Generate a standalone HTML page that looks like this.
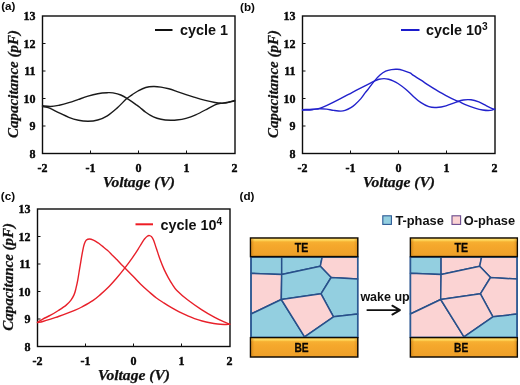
<!DOCTYPE html>
<html><head><meta charset="utf-8"><title>figure</title>
<style>
html,body{margin:0;padding:0;background:#fff;}
svg{display:block;}
.tk{font-family:"Liberation Serif",serif;font-weight:bold;font-size:12px;fill:#080808;stroke:#080808;stroke-width:0.4px;}
.al{font-family:"Liberation Serif",serif;font-weight:bold;font-style:italic;font-size:15px;fill:#111;stroke:#111;stroke-width:0.25px;}
.xl{font-size:15.6px;}
.lg{font-family:"Liberation Sans",sans-serif;font-weight:bold;font-size:14.4px;fill:#111;}
.pl{font-family:"Liberation Sans",sans-serif;font-weight:bold;font-size:11.7px;fill:#0a0a0a;}
.ph{font-family:"Liberation Sans",sans-serif;font-weight:bold;font-size:12.8px;fill:#111;}
.wk{font-family:"Liberation Sans",sans-serif;font-weight:bold;font-size:12.5px;fill:#111;}
.el{font-family:"Liberation Sans",sans-serif;font-weight:bold;font-size:12.2px;fill:#0a0602;stroke:#0a0602;stroke-width:0.3px;}
.cv{fill:none;stroke-width:1.4;stroke-linejoin:round;stroke-linecap:round;}
</style></head><body>
<svg width="520" height="385" viewBox="0 0 520 385">
<defs>
<linearGradient id="gold" x1="0" y1="0" x2="0" y2="1">
<stop offset="0" stop-color="#f9b738"/><stop offset="0.4" stop-color="#f5a82c"/><stop offset="1" stop-color="#ee9f28"/>
</linearGradient>
<linearGradient id="hl" x1="0" y1="0" x2="0" y2="1"><stop offset="0" stop-color="#ffe474"/><stop offset="1" stop-color="#fdca48" stop-opacity="0.75"/></linearGradient>
<linearGradient id="sl" x1="0" y1="0" x2="1" y2="0"><stop offset="0" stop-color="#c97f18" stop-opacity="0.7"/><stop offset="1" stop-color="#e8981f" stop-opacity="0"/></linearGradient>
<linearGradient id="sr" x1="1" y1="0" x2="0" y2="0"><stop offset="0" stop-color="#c97f18" stop-opacity="0.5"/><stop offset="1" stop-color="#e8981f" stop-opacity="0"/></linearGradient>
</defs>
<rect width="520" height="385" fill="#fff"/>
<rect x="42.5" y="16" width="192.5" height="137.5" fill="none" stroke="#0c0c0c" stroke-width="1.4"/>
<path d="M90.5,153.5v-3M138.5,153.5v-3M186.5,153.5v-3M42.5,43.5h3M42.5,71.0h3M42.5,98.5h3M42.5,126.0h3" stroke="#111" stroke-width="1" fill="none"/>
<text class="tk" x="35.5" y="20.0" text-anchor="end">13</text>
<text class="tk" x="35.5" y="47.5" text-anchor="end">12</text>
<text class="tk" x="35.5" y="75.0" text-anchor="end">11</text>
<text class="tk" x="35.5" y="102.5" text-anchor="end">10</text>
<text class="tk" x="35.5" y="130.0" text-anchor="end">9</text>
<text class="tk" x="35.5" y="157.5" text-anchor="end">8</text>
<text class="tk" x="42.5" y="172.0" text-anchor="middle">-2</text>
<text class="tk" x="90.5" y="172.0" text-anchor="middle">-1</text>
<text class="tk" x="138.5" y="172.0" text-anchor="middle">0</text>
<text class="tk" x="186.5" y="172.0" text-anchor="middle">1</text>
<text class="tk" x="234.5" y="172.0" text-anchor="middle">2</text>
<text class="al xl" x="138.9" y="187.3" text-anchor="middle">Voltage (V)</text>
<text class="al yl" transform="translate(17.5,84.0) rotate(-90)" text-anchor="middle">Capacitance (pF)</text>

<path d="M42.5,105.8C43.9,105.9 47.8,106.6 50.6,106.5C53.4,106.4 56.2,105.8 59.2,105.2C62.2,104.6 65.6,103.7 68.8,102.7C72.0,101.7 75.3,100.5 78.5,99.4C81.7,98.3 84.8,97.2 88.0,96.2C91.2,95.2 94.5,94.3 97.7,93.7C100.9,93.1 104.8,92.8 107.3,92.7C109.8,92.6 110.8,92.5 113.0,92.9C115.2,93.3 118.2,93.9 120.8,95.0C123.4,96.1 126.0,97.8 128.5,99.4C131.0,101.0 134.1,103.2 136.0,104.6C137.9,105.9 138.4,106.2 140.0,107.5C141.6,108.8 143.5,110.7 145.7,112.3C147.9,113.9 150.8,115.8 153.4,116.9C156.0,118.1 158.1,118.7 161.0,119.2C163.9,119.8 168.1,120.1 170.7,120.2C173.3,120.3 173.9,120.3 176.5,120.0C179.1,119.7 182.8,119.2 186.0,118.3C189.2,117.4 192.5,116.2 195.7,114.8C198.9,113.4 202.1,111.7 205.3,110.0C208.5,108.3 212.4,105.9 215.0,104.8C217.6,103.7 218.8,103.7 220.7,103.3C222.6,102.9 224.2,102.9 226.5,102.5C228.8,102.1 233.3,101.2 234.7,101.0" class="cv" stroke="#1a1a1a"/>
<path d="M42.5,106.5C43.7,106.8 46.8,107.0 49.6,108.1C52.4,109.2 56.0,111.4 59.2,112.9C62.4,114.4 65.6,116.1 68.8,117.3C72.0,118.5 75.3,119.5 78.5,120.2C81.7,120.9 84.8,121.2 88.0,121.2C91.2,121.2 94.5,120.9 97.7,120.0C100.9,119.1 104.1,117.8 107.3,115.8C110.5,113.8 113.8,110.9 117.0,108.1C120.2,105.3 124.0,101.0 126.5,98.8C129.1,96.5 130.4,95.9 132.3,94.6C134.2,93.3 135.8,92.2 138.0,91.0C140.2,89.8 143.1,88.2 145.7,87.5C148.3,86.8 150.8,86.6 153.4,86.5C156.0,86.4 158.4,86.7 161.0,87.1C163.6,87.5 166.2,88.1 168.8,88.8C171.4,89.5 173.6,90.3 176.5,91.3C179.4,92.3 182.8,93.5 186.0,94.6C189.2,95.7 192.5,96.7 195.7,97.7C198.9,98.7 202.1,99.6 205.3,100.4C208.5,101.2 212.4,102.0 215.0,102.5C217.6,103.0 218.8,103.2 220.7,103.3C222.6,103.4 224.2,103.4 226.5,102.9C228.8,102.4 233.3,100.8 234.7,100.4" class="cv" stroke="#1a1a1a"/>
<path d="M155,30H172.5" stroke="#111" stroke-width="2"/>
<text class="lg" x="180" y="35">cycle 1</text>
<rect x="302.5" y="16" width="192.5" height="137.5" fill="none" stroke="#0c0c0c" stroke-width="1.4"/>
<path d="M350.5,153.5v-3M398.5,153.5v-3M446.5,153.5v-3M302.5,43.5h3M302.5,71.0h3M302.5,98.5h3M302.5,126.0h3" stroke="#111" stroke-width="1" fill="none"/>
<text class="tk" x="295.5" y="20.0" text-anchor="end">13</text>
<text class="tk" x="295.5" y="47.5" text-anchor="end">12</text>
<text class="tk" x="295.5" y="75.0" text-anchor="end">11</text>
<text class="tk" x="295.5" y="102.5" text-anchor="end">10</text>
<text class="tk" x="295.5" y="130.0" text-anchor="end">9</text>
<text class="tk" x="295.5" y="157.5" text-anchor="end">8</text>
<text class="tk" x="302.5" y="172.0" text-anchor="middle">-2</text>
<text class="tk" x="350.5" y="172.0" text-anchor="middle">-1</text>
<text class="tk" x="398.5" y="172.0" text-anchor="middle">0</text>
<text class="tk" x="446.5" y="172.0" text-anchor="middle">1</text>
<text class="tk" x="494.5" y="172.0" text-anchor="middle">2</text>
<text class="al xl" x="398.9" y="187.3" text-anchor="middle">Voltage (V)</text>
<text class="al yl" transform="translate(277.5,84.0) rotate(-90)" text-anchor="middle">Capacitance (pF)</text>

<path d="M302.5,109.7C304.1,109.6 309.5,109.4 312.3,109.2C315.1,109.0 316.8,109.1 319.4,108.4C322.0,107.7 324.6,106.5 328.0,104.9C331.4,103.3 336.0,101.0 340.0,98.9C344.0,96.9 348.0,94.7 352.0,92.6C356.0,90.5 360.3,88.2 364.0,86.3C367.7,84.4 371.8,82.3 374.3,81.1C376.8,79.9 377.4,79.7 379.0,79.3C380.6,78.9 382.4,78.6 384.0,78.6C385.6,78.6 387.1,78.9 388.6,79.3C390.1,79.7 391.4,80.1 393.0,80.8C394.6,81.5 395.9,82.1 398.0,83.5C400.1,84.9 403.1,87.0 405.7,89.2C408.3,91.4 410.8,94.2 413.4,96.5C415.9,98.8 418.4,101.0 421.0,102.7C423.6,104.4 426.2,105.9 428.8,106.7C431.4,107.5 433.6,107.7 436.5,107.5C439.4,107.3 442.8,106.7 446.0,105.8C449.2,104.9 452.8,103.3 455.7,102.3C458.6,101.3 460.8,100.4 463.4,100.0C465.9,99.6 468.4,99.5 471.0,99.8C473.6,100.1 476.2,100.9 478.8,101.9C481.4,102.9 483.9,104.5 486.5,105.8C489.1,107.1 493.3,109.0 494.7,109.6" class="cv" stroke="#2222cc"/>
<path d="M302.5,110.1C304.1,110.0 309.5,109.9 312.3,109.7C315.1,109.5 317.0,108.8 319.4,108.7C321.8,108.6 324.2,108.8 326.6,109.1C329.0,109.4 331.3,110.1 333.7,110.4C336.1,110.7 339.0,111.1 340.9,111.1C342.8,111.1 343.4,111.0 345.1,110.4C346.8,109.8 349.2,108.6 350.9,107.6C352.6,106.6 353.4,105.9 355.1,104.4C356.8,102.9 359.2,100.5 360.9,98.6C362.6,96.7 363.8,94.6 365.1,92.9C366.4,91.2 367.1,90.6 368.6,88.6C370.1,86.6 372.4,83.4 374.3,81.1C376.2,78.8 378.1,76.7 380.0,75.0C381.9,73.3 383.8,72.0 385.7,71.1C387.6,70.2 389.5,69.9 391.4,69.6C393.3,69.3 395.2,69.2 397.1,69.3C399.0,69.4 400.8,69.7 402.9,70.3C405.0,70.9 408.2,72.1 410.0,72.9C411.8,73.8 411.6,74.2 413.4,75.4C415.2,76.6 418.4,78.5 421.0,80.2C423.6,81.9 426.2,83.7 428.8,85.4C431.4,87.1 433.6,88.5 436.5,90.2C439.4,91.9 442.8,93.9 446.0,95.6C449.2,97.3 453.4,99.4 455.7,100.4C457.9,101.4 457.9,101.0 459.5,101.7C461.1,102.4 462.7,103.5 465.3,104.6C467.9,105.7 472.1,107.2 475.0,108.1C477.9,109.0 480.1,109.6 482.6,110.0C485.2,110.4 488.3,110.6 490.3,110.4C492.3,110.2 494.0,109.2 494.7,109.0" class="cv" stroke="#2222cc"/>
<path d="M401,30H419.5" stroke="#1c1ccc" stroke-width="2"/>
<text class="lg" x="426" y="35">cycle 10<tspan dy="-4.6" font-size="10.2">3</tspan></text>
<rect x="37.5" y="209" width="192.5" height="137.5" fill="none" stroke="#0c0c0c" stroke-width="1.4"/>
<path d="M85.5,346.5v-3M133.5,346.5v-3M181.5,346.5v-3M37.5,236.5h3M37.5,264.0h3M37.5,291.5h3M37.5,319.0h3" stroke="#111" stroke-width="1" fill="none"/>
<text class="tk" x="30.5" y="213.0" text-anchor="end">13</text>
<text class="tk" x="30.5" y="240.5" text-anchor="end">12</text>
<text class="tk" x="30.5" y="268.0" text-anchor="end">11</text>
<text class="tk" x="30.5" y="295.5" text-anchor="end">10</text>
<text class="tk" x="30.5" y="323.0" text-anchor="end">9</text>
<text class="tk" x="30.5" y="350.5" text-anchor="end">8</text>
<text class="tk" x="37.5" y="365.0" text-anchor="middle">-2</text>
<text class="tk" x="85.5" y="365.0" text-anchor="middle">-1</text>
<text class="tk" x="133.5" y="365.0" text-anchor="middle">0</text>
<text class="tk" x="181.5" y="365.0" text-anchor="middle">1</text>
<text class="tk" x="229.5" y="365.0" text-anchor="middle">2</text>
<text class="al xl" x="133.9" y="380.3" text-anchor="middle">Voltage (V)</text>
<text class="al yl" transform="translate(12.5,276.9) rotate(-90)" text-anchor="middle">Capacitance (pF)</text>

<path d="M37.5,322.3C38.4,321.8 40.6,320.3 42.8,319.1C45.0,317.9 48.0,316.6 50.6,315.2C53.2,313.8 55.8,312.2 58.4,310.5C61.0,308.8 64.1,306.8 66.2,305.1C68.3,303.4 69.5,302.1 70.8,300.4C72.1,298.7 73.2,296.7 74.0,294.9C74.8,293.1 75.1,292.0 75.7,289.5C76.3,287.0 77.1,283.8 77.8,279.9C78.5,275.9 79.3,270.5 80.1,265.8C80.9,261.1 81.8,255.4 82.5,251.8C83.2,248.2 83.6,245.9 84.3,244.0C85.0,242.1 85.5,240.9 86.4,240.1C87.3,239.3 88.3,239.0 89.5,239.0C90.7,239.0 92.0,239.5 93.4,240.1C94.8,240.7 96.5,241.8 98.0,242.8C99.5,243.9 101.1,245.2 102.7,246.4C104.3,247.7 105.8,248.9 107.4,250.3C109.0,251.7 110.5,253.3 112.1,254.9C113.7,256.4 115.2,258.0 116.8,259.6C118.3,261.2 120.1,263.2 121.4,264.6C122.8,266.0 123.2,266.2 124.9,267.9C126.6,269.6 129.2,272.2 131.8,274.9C134.4,277.6 137.9,281.6 140.7,284.3C143.5,287.0 145.8,289.1 148.4,291.3C151.0,293.5 153.5,295.8 156.1,297.7C158.7,299.6 161.2,301.2 163.8,302.9C166.4,304.6 168.9,306.2 171.5,307.7C174.1,309.2 176.6,310.6 179.2,311.9C181.8,313.2 184.2,314.3 186.8,315.4C189.4,316.5 191.9,317.7 194.5,318.6C197.1,319.5 199.6,320.3 202.2,321.0C204.8,321.7 207.3,322.3 209.9,322.8C212.5,323.3 215.0,323.7 217.6,324.0C220.2,324.3 223.3,324.4 225.3,324.5C227.3,324.6 229.0,324.3 229.7,324.3" class="cv" stroke="#e8202a"/>
<path d="M37.5,322.6C38.4,322.4 40.6,322.1 42.8,321.5C45.0,320.9 48.0,320.0 50.6,319.2C53.2,318.4 55.8,317.4 58.4,316.5C61.0,315.6 63.6,314.7 66.2,313.7C68.8,312.7 71.4,311.7 74.0,310.6C76.6,309.5 78.7,308.7 81.8,307.0C84.9,305.3 89.7,302.7 92.8,300.6C95.9,298.5 98.0,296.6 100.6,294.4C103.2,292.2 105.6,290.0 108.3,287.3C111.0,284.6 113.7,281.4 116.5,278.2C119.3,275.0 122.4,271.2 124.9,267.9C127.5,264.6 129.6,261.7 131.8,258.6C134.0,255.5 136.4,251.8 138.0,249.3C139.6,246.8 140.4,245.3 141.5,243.6C142.6,241.9 143.5,240.2 144.5,239.0C145.5,237.8 146.5,236.8 147.3,236.2C148.1,235.6 148.8,235.5 149.5,235.6C150.2,235.7 150.8,235.8 151.5,236.6C152.2,237.4 152.8,238.4 153.6,240.3C154.4,242.2 155.2,245.0 156.3,248.2C157.4,251.4 158.8,256.0 160.1,259.6C161.4,263.2 162.8,266.6 164.2,269.6C165.6,272.6 167.0,275.3 168.4,277.8C169.8,280.3 171.1,282.5 172.5,284.6C173.9,286.7 174.1,287.7 176.6,290.2C179.1,292.7 183.4,296.6 187.5,299.8C191.6,303.0 196.6,306.4 201.1,309.3C205.6,312.2 210.7,315.2 214.7,317.4C218.7,319.6 222.8,321.3 225.3,322.4C227.8,323.5 229.0,323.9 229.7,324.2" class="cv" stroke="#e8202a"/>
<path d="M135.5,224.3H153" stroke="#ee1c24" stroke-width="2"/>
<text class="lg" x="160.5" y="230">cycle 10<tspan dy="-4.6" font-size="10.2">4</tspan></text>
<text class="pl" x="1.2" y="10.3">(a)</text>
<text class="pl" x="240" y="10.5">(b)</text>
<text class="pl" x="0.8" y="200.2">(c)</text>
<text class="pl" x="239.6" y="200.2">(d)</text>
<polygon points="251.0,257.0 281.7,257.0 281.7,274.4 251.0,273.3" fill="#93cfe0" stroke="#28508a" stroke-width="1.5" stroke-linejoin="round"/>
<polygon points="251.0,273.3 281.7,274.4 281.3,299.5 251.0,314.0" fill="#fbd3d3" stroke="#28508a" stroke-width="1.5" stroke-linejoin="round"/>
<polygon points="281.7,257.0 322.2,257.0 320.3,266.3 281.7,274.4" fill="#93cfe0" stroke="#28508a" stroke-width="1.5" stroke-linejoin="round"/>
<polygon points="322.2,257.0 357.7,257.0 357.7,279.1 331.1,277.5 320.3,266.3" fill="#fbd3d3" stroke="#28508a" stroke-width="1.5" stroke-linejoin="round"/>
<polygon points="281.7,274.4 320.3,266.3 331.1,277.5 321.0,293.8 281.3,299.5" fill="#93cfe0" stroke="#28508a" stroke-width="1.5" stroke-linejoin="round"/>
<polygon points="331.1,277.5 357.7,279.1 357.7,314.1 333.5,316.8 321.0,293.8" fill="#93cfe0" stroke="#28508a" stroke-width="1.5" stroke-linejoin="round"/>
<polygon points="251.0,314.0 281.3,299.5 304.6,336.8 304.6,337.5 251.0,337.5" fill="#93cfe0" stroke="#28508a" stroke-width="1.5" stroke-linejoin="round"/>
<polygon points="281.3,299.5 321.0,293.8 333.5,316.8 304.6,336.8" fill="#fbd3d3" stroke="#28508a" stroke-width="1.5" stroke-linejoin="round"/>
<polygon points="304.6,336.8 333.5,316.8 357.7,314.1 357.7,337.5 304.6,337.5" fill="#93cfe0" stroke="#28508a" stroke-width="1.5" stroke-linejoin="round"/>
<rect x="251.0" y="257" width="106.69999999999999" height="80.5" fill="none" stroke="#2c5a94" stroke-width="1.4"/>

<polygon points="410.4,257.0 441.1,257.0 441.1,274.4 410.4,273.3" fill="#93cfe0" stroke="#28508a" stroke-width="1.5" stroke-linejoin="round"/>
<polygon points="410.4,273.3 441.1,274.4 440.7,299.5 410.4,314.0" fill="#fbd3d3" stroke="#28508a" stroke-width="1.5" stroke-linejoin="round"/>
<polygon points="441.1,257.0 481.6,257.0 479.7,266.3 441.1,274.4" fill="#fbd3d3" stroke="#28508a" stroke-width="1.5" stroke-linejoin="round"/>
<polygon points="481.6,257.0 517.1,257.0 517.1,279.1 490.5,277.5 479.7,266.3" fill="#fbd3d3" stroke="#28508a" stroke-width="1.5" stroke-linejoin="round"/>
<polygon points="441.1,274.4 479.7,266.3 490.5,277.5 480.4,293.8 440.7,299.5" fill="#fbd3d3" stroke="#28508a" stroke-width="1.5" stroke-linejoin="round"/>
<polygon points="490.5,277.5 517.1,279.1 517.1,314.1 492.9,316.8 480.4,293.8" fill="#fbd3d3" stroke="#28508a" stroke-width="1.5" stroke-linejoin="round"/>
<polygon points="410.4,314.0 440.7,299.5 464.0,336.8 464.0,337.5 410.4,337.5" fill="#fbd3d3" stroke="#28508a" stroke-width="1.5" stroke-linejoin="round"/>
<polygon points="440.7,299.5 480.4,293.8 492.9,316.8 464.0,336.8" fill="#fbd3d3" stroke="#28508a" stroke-width="1.5" stroke-linejoin="round"/>
<polygon points="464.0,336.8 492.9,316.8 517.1,314.1 517.1,337.5 464.0,337.5" fill="#93cfe0" stroke="#28508a" stroke-width="1.5" stroke-linejoin="round"/>
<rect x="410.4" y="257" width="106.69999999999999" height="80.5" fill="none" stroke="#2c5a94" stroke-width="1.4"/>

<rect x="250.5" y="238" width="107.3" height="18.6" fill="url(#gold)" stroke="#120c04" stroke-width="1.5"/>
<rect x="251.4" y="238.9" width="105.5" height="2.6" fill="url(#hl)"/>
<rect x="251.3" y="238.8" width="3.5" height="17.0" fill="url(#sl)"/>
<rect x="353.5" y="238.8" width="3.5" height="17.0" fill="url(#sr)"/>
<text class="el" x="294.8" y="251.8" textLength="13.5" lengthAdjust="spacingAndGlyphs">TE</text>

<rect x="250.5" y="337.7" width="107.3" height="19.3" fill="url(#gold)" stroke="#120c04" stroke-width="1.5"/>
<rect x="251.4" y="338.59999999999997" width="105.5" height="2.6" fill="url(#hl)"/>
<rect x="251.3" y="338.5" width="3.5" height="17.7" fill="url(#sl)"/>
<rect x="353.5" y="338.5" width="3.5" height="17.7" fill="url(#sr)"/>
<text class="el" x="294.4" y="351.8" textLength="14.2" lengthAdjust="spacingAndGlyphs">BE</text>

<rect x="410.4" y="238" width="106.9" height="18.6" fill="url(#gold)" stroke="#120c04" stroke-width="1.5"/>
<rect x="411.29999999999995" y="238.9" width="105.10000000000001" height="2.6" fill="url(#hl)"/>
<rect x="411.2" y="238.8" width="3.5" height="17.0" fill="url(#sl)"/>
<rect x="513.0" y="238.8" width="3.5" height="17.0" fill="url(#sr)"/>
<text class="el" x="454.5" y="251.8" textLength="13.5" lengthAdjust="spacingAndGlyphs">TE</text>

<rect x="410.4" y="337.7" width="106.9" height="19.3" fill="url(#gold)" stroke="#120c04" stroke-width="1.5"/>
<rect x="411.29999999999995" y="338.59999999999997" width="105.10000000000001" height="2.6" fill="url(#hl)"/>
<rect x="411.2" y="338.5" width="3.5" height="17.7" fill="url(#sl)"/>
<rect x="513.0" y="338.5" width="3.5" height="17.7" fill="url(#sr)"/>
<text class="el" x="454.1" y="351.8" textLength="14.2" lengthAdjust="spacingAndGlyphs">BE</text>

<rect x="382.8" y="215.8" width="8.6" height="8.6" fill="#93cfe0" stroke="#2c5a94" stroke-width="1.1"/>
<text class="ph" x="395.4" y="224.5">T-phase</text>
<rect x="452" y="215.8" width="8.6" height="8.6" fill="#fbd3d3" stroke="#6a4a8c" stroke-width="1.1"/>
<text class="ph" x="463.8" y="224.5">O-phase</text>
<text class="wk" x="360.4" y="301.1">wake up</text>
<path d="M367.3,310.1H399.6M392.3,305.6L400,310.1L392.3,314.6" fill="none" stroke="#111" stroke-width="1.8" stroke-linecap="round" stroke-linejoin="round"/>
</svg>
</body></html>
